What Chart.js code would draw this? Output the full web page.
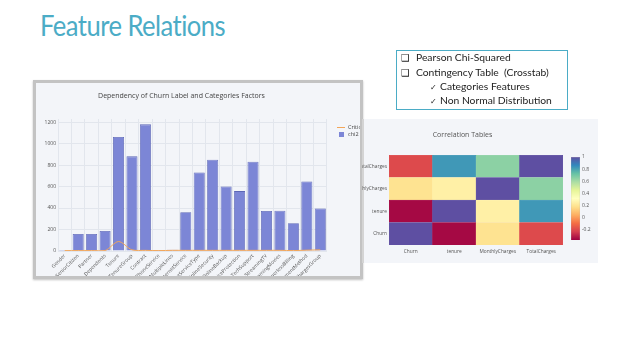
<!DOCTYPE html>
<html><head><meta charset="utf-8">
<script src="https://cdn.jsdelivr.net/npm/chart.js@4"></script>
<style>
body{margin:0;width:638px;height:359px;background:#fff;position:relative;overflow:hidden;font-family:Lato,"Open Sans",sans-serif}
#title{position:absolute;left:40px;top:8px;font-family:Lato,sans-serif;font-size:28px;color:#4BACC6;white-space:nowrap;transform-origin:0 0;letter-spacing:-0.6px}
#barFrame{position:absolute;left:33px;top:80px;width:324px;height:193px;border:3px solid #c3c3c3;background:#f3f5f9;overflow:hidden;box-shadow:0 1px 2px rgba(0,0,0,0.25)}
#barCanvas{position:absolute;left:0;top:0}
.lg{position:absolute;font-size:5.5px;color:#444;white-space:nowrap;font-family:"Open Sans",sans-serif}
#heatFrame{position:absolute;left:362px;top:119px;width:236px;height:144px;background:#f3f5f9;overflow:hidden;box-shadow:inset 2px 0 0 #d4d4d4}
#heatCanvas{position:absolute;left:0;top:0}
#cbCanvas{position:absolute;left:206px;top:30px}
#tb{position:absolute;left:396px;top:50px;width:170px;height:58px;border:1px solid #4BACC6;font-family:Lato,sans-serif;font-size:10.3px;color:#222}
.ln{position:absolute;height:14px;line-height:14px;white-space:nowrap}
.bx{display:inline-block;width:15px;font-family:"DejaVu Sans";font-size:9.5px}
.ck{display:inline-block;width:10px;font-family:"DejaVu Sans";font-size:8px}
</style></head><body>
<div id="title">Feature Relations</div>

<div id="barFrame">
  <canvas id="barCanvas" width="324" height="193"></canvas>
  <div class="lg" style="left:301px;top:40px;"><span style="display:inline-block;width:8px;height:1px;background:#f2a65a;vertical-align:middle;margin-right:3px"></span>Critical</div>
  <div class="lg" style="left:303px;top:47px;"><span style="display:inline-block;width:5px;height:5px;background:#7c86d6;vertical-align:middle;margin-right:4px"></span>chi2</div>
</div>

<div id="heatFrame">
  <canvas id="heatCanvas" width="236" height="144"></canvas>
  <canvas id="cbCanvas" width="30" height="100"></canvas>
</div>

<div id="tb">
  <div class="ln" style="left:4px;top:-1px"><span class="bx">❑</span>Pearson Chi-Squared</div>
  <div class="ln" style="left:4px;top:14px"><span class="bx">❑</span>Contingency Table&nbsp; (Crosstab)</div>
  <div class="ln" style="left:33px;top:28px"><span class="ck">✓</span>Categories Features</div>
  <div class="ln" style="left:33px;top:42px"><span class="ck">✓</span>Non Normal Distribution</div>
</div>

<script>
// ---------- data ----------
const categories = ["Gender","SeniorCitizen","Partner","Dependents","Tenure","TenureGroup","Contract","PhoneService","MultipleLines","InternetService","InternetServiceType","OnlineSecurity","OnlineBackup","DeviceProtection","TechSupport","StreamingTV","StreamingMovies","PaperlessBilling","PaymentMethod","TotalChargesGroup"];
const chi2Values = [0.5,159,158,186,1063,882,1180,0.9,11,362,732,850,602,558,832,373,375,258,648,396];
const criticalValues = [3.8,3.8,3.8,3.8,88,11,6,3.8,6,6,6,6,6,6,6,6,6,3.8,7.8,11];
const yTicks = [0,200,400,600,800,1000,1200];

const heatColumns = ["Churn","tenure","MonthlyCharges","TotalCharges"];
const heatRows = ["Churn","tenure","MonthlyCharges","TotalCharges"]; // bottom to top
const corrChurn   = [1,-0.352,0.193,-0.199];
const corrTenure  = [-0.352,1,0.248,0.826];
const corrMonthly = [0.193,0.248,1,0.651];
const corrTotal   = [-0.199,0.826,0.651,1];
const colorbarTicks = [-0.2,0,0.2,0.4,0.6,0.8,1];
const ZMIN = -0.37, ZMAX = 1;

// ---------- helpers ----------
const SPECTRAL = [[158,1,66],[213,62,79],[244,109,67],[253,174,97],[254,224,139],[255,255,191],[230,245,152],[171,221,164],[102,194,165],[50,136,189],[94,79,162]];
function spectral(v){
  let t=(v-ZMIN)/(ZMAX-ZMIN); t=Math.max(0,Math.min(1,t));
  const p=t*10, i=Math.min(9,Math.floor(p)), f=p-i, a=SPECTRAL[i], b=SPECTRAL[i+1];
  return 'rgb('+a.map((c,k)=>Math.round(c+(b[k]-c)*f)).join(',')+')';
}

// fit title width
(function(){const el=document.getElementById('title');const w=el.getBoundingClientRect().width;el.style.transform='scaleX('+(185/w)+')';})();

Chart.defaults.font.family = '"Open Sans", sans-serif';

// ---------- bar chart ----------
new Chart(document.getElementById('barCanvas'), {
  type:'bar',
  data:{
    labels:categories,
    datasets:[
      {type:'line',label:'Critical',data:criticalValues,borderColor:'#f2a65a',borderWidth:1,pointRadius:0,tension:0.3,order:0},
      {type:'bar',label:'chi2',data:chi2Values,backgroundColor:'#7c86d6',borderColor:'#5d67b6',borderWidth:0.8,barPercentage:0.82,categoryPercentage:1,order:1}
    ]
  },
  options:{
    responsive:false,animation:false,devicePixelRatio:1,
    layout:{padding:{left:0,right:33,top:0,bottom:0}},
    plugins:{
      legend:{display:false},tooltip:{enabled:false},
      title:{display:true,text:'Dependency of Churn Label and Categories Factors',color:'#444',font:{size:7,weight:'normal'},padding:{top:9,bottom:18.6}}
    },
    scales:{
      x:{grid:{color:'#e2e6ed',drawTicks:false},border:{display:false},
         ticks:{autoSkip:false,minRotation:45,maxRotation:45,font:{size:5},color:'#555',padding:2},
         afterFit:a=>{a.height=25;}},
      y:{min:0,max:1230,grid:{color:'#e2e6ed',drawTicks:false},border:{display:false},
         afterBuildTicks:a=>{a.ticks=yTicks.map(v=>({value:v}));},
         ticks:{font:{size:5},color:'#555',padding:2,callback:v=>String(v)},
         afterFit:a=>{a.width=22;}}
    }
  }
});

// ---------- heatmap ----------
const rowsData=[corrChurn,corrTenure,corrMonthly,corrTotal];
new Chart(document.getElementById('heatCanvas'), {
  type:'bar',
  data:{
    labels:heatColumns,
    datasets:rowsData.map((vals,r)=>({
      label:heatRows[r],
      data:vals.map(()=>[r,r+1]),
      backgroundColor:vals.map(spectral),
      borderColor:vals.map(spectral),
      borderWidth:0.5,barPercentage:1,categoryPercentage:1,grouped:false
    }))
  },
  options:{
    responsive:false,animation:false,devicePixelRatio:1,
    layout:{padding:{left:0,right:35,top:0,bottom:0}},
    plugins:{
      legend:{display:false},tooltip:{enabled:false},
      title:{display:true,text:'Correlation Tables',color:'#555',font:{size:7,weight:'normal'},padding:{top:12,bottom:15.6}}
    },
    scales:{
      x:{grid:{display:false,drawTicks:false},border:{display:false},ticks:{autoSkip:false,minRotation:0,maxRotation:0,font:{size:4.8},color:'#555',padding:4},afterFit:a=>{a.height=18;}},
      y:{min:0,max:4,grid:{display:false,drawTicks:false},border:{display:false},
         afterBuildTicks:a=>{a.ticks=heatRows.map((n,i)=>({value:i+0.5}));},
         ticks:{font:{size:4.8},color:'#555',padding:2,callback:v=>heatRows[Math.floor(v)]},
         afterFit:a=>{a.width=27;}}
    }
  }
});

// ---------- colorbar ----------
new Chart(document.getElementById('cbCanvas'), {
  type:'bar',
  data:{labels:[''],datasets:[{data:[[ZMIN,ZMAX]],
    backgroundColor:(c)=>{const ca=c.chart.chartArea;if(!ca)return '#888';const g=c.chart.ctx.createLinearGradient(0,ca.bottom,0,ca.top);SPECTRAL.forEach((s,i)=>g.addColorStop(i/10,'rgb('+s.join(',')+')'));return g;},
    borderColor:'#aaa',borderWidth:0.5,barPercentage:1,categoryPercentage:1}]},
  options:{
    responsive:false,animation:false,devicePixelRatio:1,
    layout:{padding:{left:3,right:0,top:8,bottom:9}},
    plugins:{legend:{display:false},tooltip:{enabled:false}},
    scales:{
      x:{display:false},
      y:{position:'right',min:ZMIN,max:ZMAX,grid:{display:false,drawTicks:false},border:{display:false},
         afterBuildTicks:a=>{a.ticks=colorbarTicks.map(v=>({value:v}));},
         ticks:{font:{size:5},color:'#555',padding:2,callback:v=>String(Math.round(v*10)/10)},
         afterFit:a=>{a.width=18;}}
    }
  }
});
</script>
</body></html>
